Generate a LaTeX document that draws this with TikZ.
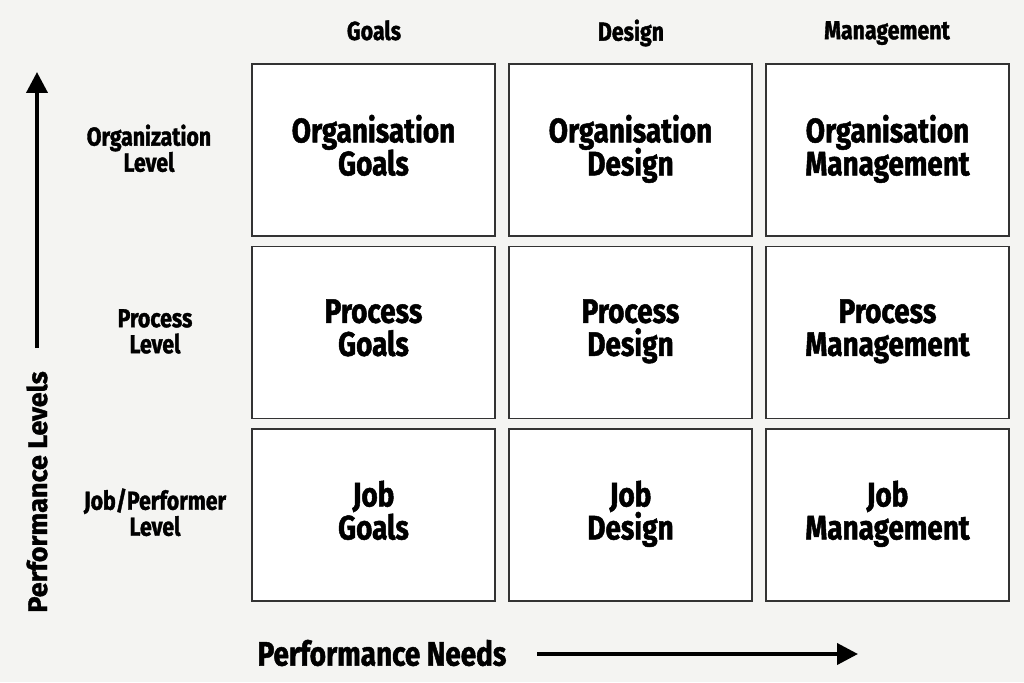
\documentclass[tikz,border=0pt]{standalone}
\usepackage{fontspec}
\setmainfont{Fira Sans}[FakeStretch=0.82, BoldFeatures={FakeBold=1.4}]
\newfontfamily\widefont{Fira Sans}[BoldFeatures={FakeBold=1.4}]
\usetikzlibrary{arrows.meta}
\definecolor{bg}{HTML}{F4F4F2}
\definecolor{edge}{HTML}{333333}
\newcommand{\tightlines}{\lineskiplimit=-60pt\relax}
\tikzset{
  cell/.style={draw=edge, line width=1.6pt, fill=white, minimum width=243pt, minimum height=172pt, inner sep=0pt,
    align=center, font={\fontsize{34}{33}\selectfont\bfseries\tightlines}},
  colhead/.style={align=center, font=\fontsize{26}{26}\selectfont\bfseries},
  rowhead/.style={align=center, font={\fontsize{26}{26}\selectfont\bfseries\tightlines}},
  bigarrow/.style={line width=4pt, -{Triangle[length=21pt,width=21pt]}},
}
\begin{document}
\begin{tikzpicture}[x=1pt,y=-1pt]
\fill[bg] (0,0) rectangle (1024,682);
\useasboundingbox (0,0) rectangle (1024,682);
% column heads
\node[colhead] (hg) at (374,34) {\strut Goals};
\node[colhead] (hd) at (631,34) {\strut Design};
\node[colhead] (hm) at (887,34) {\strut Management};
% row heads
\node[rowhead] (ro) at (149,152) {\strut Organization\\\strut Level};
\node[rowhead] (rp) at (155,335) {\strut Process\\\strut Level};
\node[rowhead] (rj) at (155,516) {\strut Job/Performer\\\strut Level};
% cells
\node[cell] (og) at (373.5,150) {\strut Organisation\\\strut Goals};
\node[cell] (od) at (630.5,150) {\strut Organisation\\\strut Design};
\node[cell] (om) at (887.5,150) {\strut Organisation\\\strut Management};
\node[cell] (pg) at (373.5,332.5) {\strut Process\\\strut Goals};
\node[cell] (pd) at (630.5,332.5) {\strut Process\\\strut Design};
\node[cell] (pm) at (887.5,332.5) {\strut Process\\\strut Management};
\node[cell] (jg) at (373.5,515) {\strut Job\\\strut Goals};
\node[cell] (jd) at (630.5,515) {\strut Job\\\strut Design};
\node[cell] (jm) at (887.5,515) {\strut Job\\\strut Management};
% axes
\coordinate (vs) at (37,348);
\coordinate (ve) at (37,72);
\draw[bigarrow] (vs) -- (ve);
\node[rotate=90, font=\widefont\fontsize{27}{27}\selectfont\bfseries] (pl) at (37,492) {Performance Levels};
\coordinate (hs) at (537,654);
\coordinate (he) at (858,654);
\draw[bigarrow] (hs) -- (he);
\node[font=\fontsize{34}{34}\selectfont\bfseries] (pn) at (382,653) {Performance Needs};
\end{tikzpicture}
\end{document}
